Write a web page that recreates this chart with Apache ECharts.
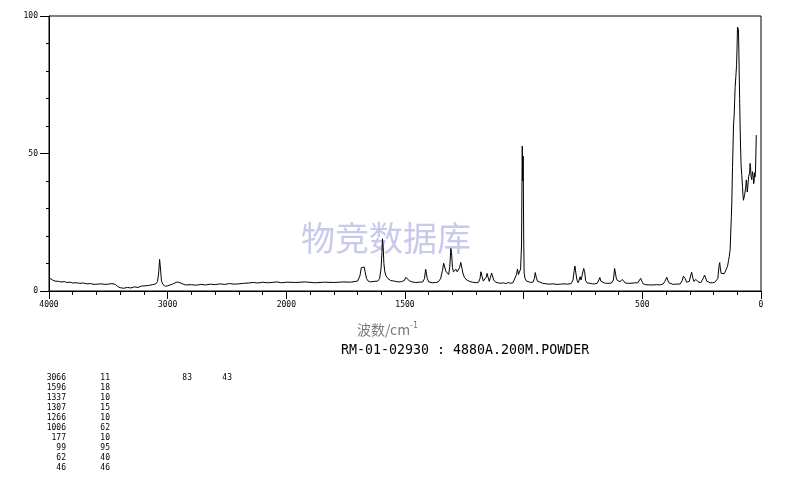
<!DOCTYPE html>
<html>
<head>
<meta charset="utf-8">
<script src="https://cdn.jsdelivr.net/npm/echarts@6/dist/echarts.min.js"></script>
<style>html,body{margin:0;padding:0;background:#fff;}#chart{width:794px;height:482px;}</style>
</head>
<body>
<div id="chart"></div>
<script>
// Raman shift (cm-1), descending
const wavenumbers = [
4000,3990,3970,3950,3920,3900,3870,3850,3820,3800,3770,3740,3710,3680,3650,3620,3590,3560,3530,3500,3470,3440,3420,3400,3370,3340,3310,3280,3250,3220,3190,3160,3130,3100,3085,3075,3068,3064,3060,3055,3050,3040,3020,3000,2980,2960,2940,2920,2905,2890,2870,2850,2800,2760,2720,2680,2640,2600,2560,2520,2480,2440,2400,2360,2320,2280,2240,2200,2160,2120,2080,2040,2000,
1960,1920,1880,1840,1800,1760,1730,1700,1690,1684,1680,1676,1672,1668,1662,1655,1645,1630,1615,1607,1601,1597,1595,1592,1589,1585,1580,1572,1560,1545,1530,1515,1503,1496,1492,1488,1482,1470,1455,1440,1425,1418,1413,1410,1406,1400,1385,1370,1360,1350,1342,1337,1333,1328,1322,1316,1311,1307,1304,1300,1296,1290,1285,1280,1275,1270,1265,1261,1256,1250,1240,1228,1215,1200,1190,1184,1180,1176,1170,1163,1158,1154,1150,1145,1139,1135,1131,1126,1118,1105,1095,1085,1075,1065,1055,1045,1037,1030,1026,1022,1018,1013,1009,1006,1004,1002,1000,998,994,988,980,970,960,955,951,947,942,935,920,905,890,875,860,845,830,815,800,792,787,784,780,775,770,765,762,758,752,747,743,739,732,720,710,700,690,683,679,675,668,660,650,640,630,622,617,614,610,606,600,594,588,584,580,572,560,548,540,530,520,512,507,502,496,485,470,455,440,425,412,405,401,397,393,388,380,370,360,350,340,332,327,323,319,314,308,302,297,292,288,283,278,274,270,266,261,254,247,242,238,234,229,222,214,205,196,188,182,177,174,171,168,164,160,155,151,146,141,137,134,130,128,125,123,120,118,116,113,111,109,106,103,101,99,97,95,93,92,90,88,86,84,81,78,76,74,71,69,67,64,62,60,58,56,54,52,50,48,46,44,42,39,36,33,31,29,27,25,23,21,20
];
const intensities = [
4.8,4.4,4.0,3.6,3.5,3.3,3.4,3.1,3.2,2.9,3.0,2.8,2.9,2.6,2.7,2.4,2.5,2.6,2.4,2.5,2.7,2.4,1.6,1.2,1.0,1.3,1.1,1.5,1.3,1.8,1.9,2.0,2.3,2.6,3.5,7.0,11.5,11.8,8.0,5.0,3.4,2.4,1.7,1.9,2.2,2.5,2.9,3.3,3.4,2.9,2.5,2.2,2.3,2.1,2.4,2.2,2.5,2.3,2.6,2.4,2.7,2.5,2.6,2.8,2.9,3.1,2.9,3.2,3.0,3.1,3.3,3.0,3.2,
3.1,3.3,3.0,3.2,3.1,3.3,3.2,3.6,5.5,8.5,8.8,7.9,8.7,7.0,4.5,3.6,3.3,3.5,3.6,4.5,8.0,14.0,19.0,16.0,10.0,7.0,5.5,4.5,3.8,3.6,3.3,3.4,3.8,5.0,5.4,4.5,3.7,3.3,3.1,3.2,3.3,4.5,7.9,7.2,4.5,3.3,3.0,3.1,3.3,4.5,7.5,10.1,9.5,7.2,6.5,6.0,9.0,15.5,14.0,8.5,7.0,7.5,7.9,7.0,6.8,8.5,10.4,9.8,6.5,5.0,4.0,3.5,3.2,3.0,3.2,4.5,7.0,5.5,3.6,3.4,5.0,6.4,5.0,3.5,3.3,6.5,6.2,4.0,3.2,2.9,2.8,3.0,2.7,3.1,2.8,3.0,3.6,6.0,8.0,6.0,5.5,8.0,16.7,52.7,40.0,49.0,20.0,6.5,4.5,3.6,3.3,3.1,3.3,4.5,6.7,5.0,3.6,3.0,2.8,2.6,2.5,2.6,2.4,2.5,2.6,2.5,2.7,4.0,7.5,9.1,6.5,3.8,3.0,3.5,5.2,4.0,4.5,8.2,7.0,3.8,2.9,2.8,2.6,2.6,2.8,4.0,4.9,3.6,3.0,2.9,2.8,2.8,2.9,4.0,8.2,7.0,4.7,3.9,3.2,3.4,3.8,4.2,3.5,2.9,2.8,2.8,3.3,3.0,2.9,3.6,4.6,3.6,2.6,2.3,2.2,2.2,2.3,2.2,2.6,3.5,3.2,5.0,4.0,3.0,2.6,2.4,2.5,2.5,2.6,3.8,5.4,6.1,4.5,3.2,2.9,3.5,5.5,6.8,5.0,3.5,3.2,4.2,4.6,3.4,3.0,3.0,3.6,4.8,5.8,5.0,3.6,3.2,3.0,3.0,3.1,3.3,4.5,9.0,10.3,8.0,6.4,7.0,6.5,6.3,6.8,8.0,9.0,11.0,12.5,15.0,20.0,27.0,32.0,45.0,52.0,60.0,64.0,69.0,74.0,78.0,82.0,88.0,96.0,95.5,95.0,86.0,80.0,70.0,60.0,52.0,46.0,42.0,38.0,35.0,33.0,33.5,35.0,35.5,38.0,40.4,39.0,36.0,37.5,38.0,41.6,41.0,43.0,46.4,45.0,41.6,40.5,43.4,42.0,39.0,40.0,43.0,41.5,44.0,52.0,56.7
];
// axis break: 4000-2000 at half scale, 2000-0 at full scale
const xTickLabels = {0:'4000',500:'3000',1000:'2000',1500:'1500',2000:'',2500:'500',3000:'0'};
const yTickValues = [0, 50, 100];
// peak table
const peakShift = ['3066','1596','1337','1307','1266','1006','177','99','62','46'];
const peakInt = ['11','18','10','15','10','62','10','95','40','46'];
const extraCol3 = ['83'];
const extraCol4 = ['43'];
const axisTitle = '波数/cm';
const sampleTitle = 'RM-01-02930 : 4880A.200M.POWDER';
const watermark = '物竞数据库';

function pos(w){ return w >= 2000 ? (4000 - w) / 2 : 1000 + (2000 - w); }
const seriesData = wavenumbers.map((w,i)=>[pos(w), intensities[i]]);

const chart = echarts.init(document.getElementById('chart'), null, {renderer:'canvas'});
const mono = 'DejaVu Sans Mono';
const graphics = [
  {type:'text', left:301, top:221, z:-10, silent:true,
   style:{text:watermark, font:'34px "Noto Sans CJK SC"', fill:'#c9c9ec'}},
  {type:'text', left:357, top:322,
   style:{text:'{a|'+axisTitle+'}{s|-1}', rich:{a:{font:'14px "Noto Sans CJK SC"', fill:'#7a7a7a'}, s:{font:'8px "DejaVu Sans"', fill:'#7a7a7a', verticalAlign:'top', padding:[0,0,8,0]}}}},
  {type:'text', left:341, top:344,
   style:{text:sampleTitle, font:'13.3px "'+mono+'"', fill:'#000'}}
];
peakShift.forEach((s,i)=>{
  graphics.push({type:'text', x:66, y:374+i*10, style:{text:s, font:'8px "'+mono+'"', fill:'#000', align:'right'}});
  graphics.push({type:'text', x:110, y:374+i*10, style:{text:peakInt[i], font:'8px "'+mono+'"', fill:'#000', align:'right'}});
});
extraCol3.forEach((s,i)=>graphics.push({type:'text', x:192, y:374+i*10, style:{text:s, font:'8px "'+mono+'"', fill:'#000', align:'right'}}));
extraCol4.forEach((s,i)=>graphics.push({type:'text', x:232, y:374+i*10, style:{text:s, font:'8px "'+mono+'"', fill:'#000', align:'right'}}));

chart.setOption({
  animation:false,
  backgroundColor:'#fff',
  grid:{left:49, right:33, top:16, bottom:191, show:true, borderColor:'#000', borderWidth:1, backgroundColor:'transparent'},
  xAxis:{type:'value', min:0, max:3000, interval:500,
    axisLine:{show:true, onZero:false, lineStyle:{color:'#000', width:1}},
    axisTick:{show:true, length:8, lineStyle:{color:'#000'}},
    minorTick:{show:true, splitNumber:5, length:4, lineStyle:{color:'#000'}},
    splitLine:{show:false},
    axisLabel:{margin:10, color:'#000', fontFamily:mono, fontSize:8,
      formatter:(v)=> xTickLabels[v] !== undefined ? xTickLabels[v] : ''}},
  yAxis:{type:'value', min:0, max:100, interval:50,
    axisLine:{show:true, lineStyle:{color:'#000', width:1}},
    axisTick:{show:true, length:9, lineStyle:{color:'#000'}},
    minorTick:{show:true, splitNumber:5, length:3, lineStyle:{color:'#000'}},
    splitLine:{show:false},
    axisLabel:{margin:11, color:'#000', fontFamily:mono, fontSize:8,
      formatter:(v)=> yTickValues.includes(v) ? String(v) : ''}},
  graphic:graphics,
  series:[{type:'line', data:seriesData, showSymbol:false, symbol:'none',
    lineStyle:{color:'#000', width:1}, z:5}]
});
</script>
</body>
</html>
